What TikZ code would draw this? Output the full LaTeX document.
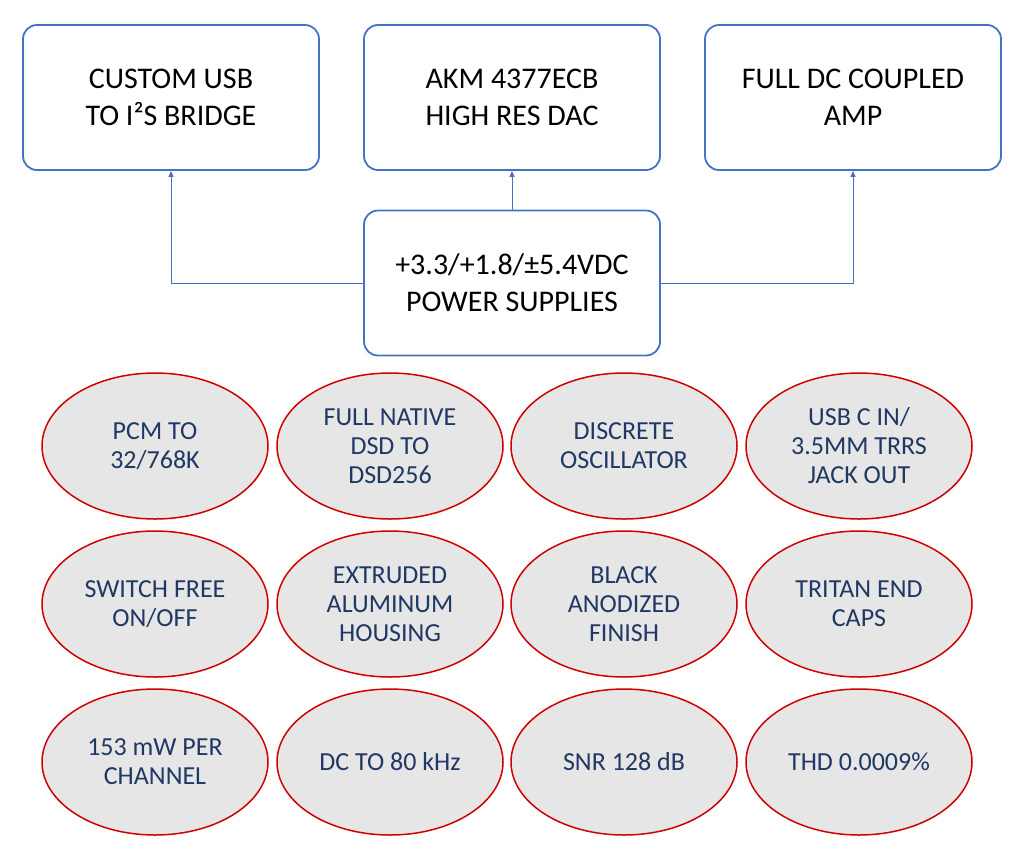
\documentclass[tikz,border=0pt]{standalone}
\usepackage{fontspec}
\setmainfont{Carlito}
\usetikzlibrary{shapes.geometric,arrows.meta}
\definecolor{bx}{HTML}{4472C4}
\definecolor{tx}{HTML}{1F3864}
\definecolor{el}{HTML}{E7E6E6}
\definecolor{er}{HTML}{D00000}
\begin{document}
\begin{tikzpicture}[x=1pt,y=-1pt,
  box/.style={draw=bx,line width=1.8pt,rounded corners=14pt,minimum width=296pt,minimum height=145pt,align=center,font=\fontsize{30}{37}\selectfont},
  ell/.style={ellipse,draw=er,line width=1.5pt,fill=el,minimum width=226pt,minimum height=146pt,inner sep=0pt,align=center,text=tx,font=\fontsize{26}{29}\selectfont},
  con/.style={draw=bx,line width=0.8pt,-{Triangle[length=6pt,width=5pt]}}]
\useasboundingbox (0,0) rectangle (1024,855);
\node[box] (b1) at (171,97.5) {CUSTOM USB\\TO I²S BRIDGE};
\node[box] (b2) at (512,97.5) {AKM 4377ECB\\HIGH RES DAC};
\node[box] (b3) at (853,97.5) {FULL DC COUPLED\\AMP};
\node[box] (ps) at (512,283) {+3.3/+1.8/±5.4VDC\\POWER SUPPLIES};
\draw[con] (ps.north) -- (b2.south);
\draw[con] (ps.west) -| (b1.south);
\draw[con] (ps.east) -| (b3.south);
\node[ell] (e11) at (155,446) {PCM TO\\32/768K};
\node[ell] (e12) at (390,446) {FULL NATIVE\\DSD TO\\DSD256};
\node[ell] (e13) at (624,446) {DISCRETE\\OSCILLATOR};
\node[ell] (e14) at (859,446) {USB C IN/\\3.5MM TRRS\\JACK OUT};
\node[ell] (e21) at (155,604) {SWITCH FREE\\ON/OFF};
\node[ell] (e22) at (390,604) {EXTRUDED\\ALUMINUM\\HOUSING};
\node[ell] (e23) at (624,604) {BLACK\\ANODIZED\\FINISH};
\node[ell] (e24) at (859,604) {TRITAN END\\CAPS};
\node[ell] (e31) at (155,762) {153 mW PER\\CHANNEL};
\node[ell] (e32) at (390,762) {DC TO 80 kHz};
\node[ell] (e33) at (624,762) {SNR 128 dB};
\node[ell] (e34) at (859,762) {THD 0.0009\%};
\end{tikzpicture}
\end{document}
